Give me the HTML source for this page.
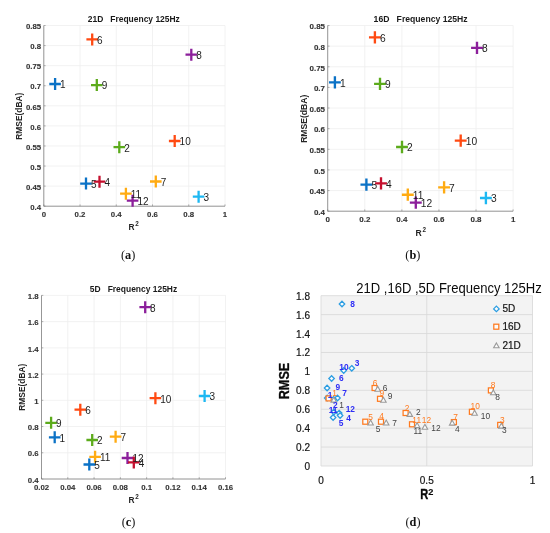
<!DOCTYPE html>
<html lang="en"><head><meta charset="utf-8"><title>Figure</title>
<style>html,body{margin:0;padding:0;background:#fff}svg{display:block}text{font-family:"Liberation Sans",sans-serif}.tk{font-weight:bold;fill:#333;stroke:#333;stroke-width:0.12px}.ttl{font-weight:bold;fill:#1a1a1a}.lab{font-weight:bold;fill:#262626}.pl{fill:#1c1c1c}.cap{font-family:"Liberation Serif","DejaVu Serif",serif;font-size:12.3px;fill:#111}.dt{font-size:10px;fill:#151515;stroke:#151515;stroke-width:0.2px}.dl{font-size:8.4px}</style></head><body>
<svg width="550" height="533" viewBox="0 0 550 533">
<rect width="550" height="533" fill="#fff"/>
<path d="M43.80 25.50V206.20M80.04 25.50V206.20M116.28 25.50V206.20M152.52 25.50V206.20M188.76 25.50V206.20M225.00 25.50V206.20M43.80 206.20H225.00M43.80 186.12H225.00M43.80 166.04H225.00M43.80 145.97H225.00M43.80 125.89H225.00M43.80 105.81H225.00M43.80 85.73H225.00M43.80 65.66H225.00M43.80 45.58H225.00M43.80 25.50H225.00" stroke="#ededed" stroke-width="0.75" fill="none"/>
<path d="M43.80 25.50V206.20H225.00" stroke="#707070" stroke-width="0.7" fill="none"/>
<path d="M43.80 206.20v-1.8M80.04 206.20v-1.8M116.28 206.20v-1.8M152.52 206.20v-1.8M188.76 206.20v-1.8M225.00 206.20v-1.8M43.80 206.20h1.8M43.80 186.12h1.8M43.80 166.04h1.8M43.80 145.97h1.8M43.80 125.89h1.8M43.80 105.81h1.8M43.80 85.73h1.8M43.80 65.66h1.8M43.80 45.58h1.8M43.80 25.50h1.8" stroke="#808080" stroke-width="0.6" fill="none"/>
<text class="tk" font-size="7.80" x="43.80" y="217.20" text-anchor="middle">0</text>
<text class="tk" font-size="7.80" x="80.04" y="217.20" text-anchor="middle">0.2</text>
<text class="tk" font-size="7.80" x="116.28" y="217.20" text-anchor="middle">0.4</text>
<text class="tk" font-size="7.80" x="152.52" y="217.20" text-anchor="middle">0.6</text>
<text class="tk" font-size="7.80" x="188.76" y="217.20" text-anchor="middle">0.8</text>
<text class="tk" font-size="7.80" x="225.00" y="217.20" text-anchor="middle">1</text>
<text class="tk" font-size="7.80" x="41.10" y="209.90" text-anchor="end">0.4</text>
<text class="tk" font-size="7.80" x="41.10" y="189.82" text-anchor="end">0.45</text>
<text class="tk" font-size="7.80" x="41.10" y="169.74" text-anchor="end">0.5</text>
<text class="tk" font-size="7.80" x="41.10" y="149.67" text-anchor="end">0.55</text>
<text class="tk" font-size="7.80" x="41.10" y="129.59" text-anchor="end">0.6</text>
<text class="tk" font-size="7.80" x="41.10" y="109.51" text-anchor="end">0.65</text>
<text class="tk" font-size="7.80" x="41.10" y="89.43" text-anchor="end">0.7</text>
<text class="tk" font-size="7.80" x="41.10" y="69.36" text-anchor="end">0.75</text>
<text class="tk" font-size="7.80" x="41.10" y="49.28" text-anchor="end">0.8</text>
<text class="tk" font-size="7.80" x="41.10" y="29.20" text-anchor="end">0.85</text>
<text class="ttl" font-size="8.46" x="133.80" y="21.90" text-anchor="middle" xml:space="preserve">21D   Frequency 125Hz</text>
<text class="lab" font-size="8.40" transform="translate(22.30 116.20) rotate(-90)" text-anchor="middle">RMSE(dBA)</text>
<text class="lab" font-size="8.40" x="133.70" y="229.90" text-anchor="middle">R<tspan dx="0.7" dy="-3.6" font-size="6.3">2</tspan></text>
<text class="cap" x="128.20" y="258.50" text-anchor="middle">(<tspan font-weight="bold">a</tspan>)</text>
<path d="M86.40 39.40h11.60M92.20 33.40v12.00" stroke="#FF4A12" stroke-width="2.30" fill="none"/>
<path d="M49.30 84.00h11.60M55.10 78.00v12.00" stroke="#0B72C6" stroke-width="2.30" fill="none"/>
<path d="M91.00 85.10h11.60M96.80 79.10v12.00" stroke="#5CAB1C" stroke-width="2.30" fill="none"/>
<path d="M185.50 54.70h11.60M191.30 48.70v12.00" stroke="#8C1F9B" stroke-width="2.30" fill="none"/>
<path d="M113.50 147.20h11.60M119.30 141.20v12.00" stroke="#5CAB1C" stroke-width="2.30" fill="none"/>
<path d="M80.20 183.60h11.60M86.00 177.60v12.00" stroke="#0B72C6" stroke-width="2.30" fill="none"/>
<path d="M93.70 181.70h11.60M99.50 175.70v12.00" stroke="#C5102E" stroke-width="2.30" fill="none"/>
<path d="M120.10 193.70h11.60M125.90 187.70v12.00" stroke="#FFAB12" stroke-width="2.30" fill="none"/>
<path d="M126.80 200.70h11.60M132.60 194.70v12.00" stroke="#8C1F9B" stroke-width="2.30" fill="none"/>
<path d="M168.90 141.00h11.60M174.70 135.00v12.00" stroke="#FF4A12" stroke-width="2.30" fill="none"/>
<path d="M150.00 181.50h11.60M155.80 175.50v12.00" stroke="#FFAB12" stroke-width="2.30" fill="none"/>
<path d="M192.80 196.70h11.60M198.60 190.70v12.00" stroke="#1DB8F2" stroke-width="2.30" fill="none"/>
<text class="pl" font-size="10.00" x="97.10" y="43.70">6</text>
<text class="pl" font-size="10.00" x="60.00" y="88.30">1</text>
<text class="pl" font-size="10.00" x="101.70" y="89.40">9</text>
<text class="pl" font-size="10.00" x="196.20" y="59.00">8</text>
<text class="pl" font-size="10.00" x="124.20" y="151.50">2</text>
<text class="pl" font-size="10.00" x="90.90" y="187.90">5</text>
<text class="pl" font-size="10.00" x="104.40" y="186.00">4</text>
<text class="pl" font-size="10.00" x="130.80" y="198.00">11</text>
<text class="pl" font-size="10.00" x="137.50" y="205.00">12</text>
<text class="pl" font-size="10.00" x="179.60" y="145.30">10</text>
<text class="pl" font-size="10.00" x="160.70" y="185.80">7</text>
<text class="pl" font-size="10.00" x="203.50" y="201.00">3</text>
<path d="M327.70 25.50V211.20M364.78 25.50V211.20M401.86 25.50V211.20M438.94 25.50V211.20M476.02 25.50V211.20M513.10 25.50V211.20M327.70 211.20H513.10M327.70 190.57H513.10M327.70 169.93H513.10M327.70 149.30H513.10M327.70 128.67H513.10M327.70 108.03H513.10M327.70 87.40H513.10M327.70 66.77H513.10M327.70 46.13H513.10M327.70 25.50H513.10" stroke="#ededed" stroke-width="0.75" fill="none"/>
<path d="M327.70 25.50V211.20H513.10" stroke="#707070" stroke-width="0.7" fill="none"/>
<path d="M327.70 211.20v-1.8M364.78 211.20v-1.8M401.86 211.20v-1.8M438.94 211.20v-1.8M476.02 211.20v-1.8M513.10 211.20v-1.8M327.70 211.20h1.8M327.70 190.57h1.8M327.70 169.93h1.8M327.70 149.30h1.8M327.70 128.67h1.8M327.70 108.03h1.8M327.70 87.40h1.8M327.70 66.77h1.8M327.70 46.13h1.8M327.70 25.50h1.8" stroke="#808080" stroke-width="0.6" fill="none"/>
<text class="tk" font-size="7.98" x="327.70" y="222.20" text-anchor="middle">0</text>
<text class="tk" font-size="7.98" x="364.78" y="222.20" text-anchor="middle">0.2</text>
<text class="tk" font-size="7.98" x="401.86" y="222.20" text-anchor="middle">0.4</text>
<text class="tk" font-size="7.98" x="438.94" y="222.20" text-anchor="middle">0.6</text>
<text class="tk" font-size="7.98" x="476.02" y="222.20" text-anchor="middle">0.8</text>
<text class="tk" font-size="7.98" x="513.10" y="222.20" text-anchor="middle">1</text>
<text class="tk" font-size="7.98" x="325.00" y="214.99" text-anchor="end">0.4</text>
<text class="tk" font-size="7.98" x="325.00" y="194.35" text-anchor="end">0.45</text>
<text class="tk" font-size="7.98" x="325.00" y="173.72" text-anchor="end">0.5</text>
<text class="tk" font-size="7.98" x="325.00" y="153.09" text-anchor="end">0.55</text>
<text class="tk" font-size="7.98" x="325.00" y="132.45" text-anchor="end">0.6</text>
<text class="tk" font-size="7.98" x="325.00" y="111.82" text-anchor="end">0.65</text>
<text class="tk" font-size="7.98" x="325.00" y="91.19" text-anchor="end">0.7</text>
<text class="tk" font-size="7.98" x="325.00" y="70.55" text-anchor="end">0.75</text>
<text class="tk" font-size="7.98" x="325.00" y="49.92" text-anchor="end">0.8</text>
<text class="tk" font-size="7.98" x="325.00" y="29.29" text-anchor="end">0.85</text>
<text class="ttl" font-size="8.65" x="420.60" y="21.60" text-anchor="middle" xml:space="preserve">16D   Frequency 125Hz</text>
<text class="lab" font-size="8.59" transform="translate(306.50 118.80) rotate(-90)" text-anchor="middle">RMSE(dBA)</text>
<text class="lab" font-size="8.59" x="420.80" y="235.90" text-anchor="middle">R<tspan dx="0.7" dy="-3.6" font-size="6.3">2</tspan></text>
<text class="cap" x="412.90" y="259.00" text-anchor="middle">(<tspan font-weight="bold">b</tspan>)</text>
<path d="M368.97 37.30h11.87M374.90 31.16v12.28" stroke="#FF4A12" stroke-width="2.35" fill="none"/>
<path d="M328.97 82.40h11.87M334.90 76.26v12.28" stroke="#0B72C6" stroke-width="2.35" fill="none"/>
<path d="M374.07 83.90h11.87M380.00 77.76v12.28" stroke="#5CAB1C" stroke-width="2.35" fill="none"/>
<path d="M471.07 47.90h11.87M477.00 41.76v12.28" stroke="#8C1F9B" stroke-width="2.35" fill="none"/>
<path d="M396.07 147.00h11.87M402.00 140.86v12.28" stroke="#5CAB1C" stroke-width="2.35" fill="none"/>
<path d="M360.47 184.60h11.87M366.40 178.46v12.28" stroke="#0B72C6" stroke-width="2.35" fill="none"/>
<path d="M375.07 183.40h11.87M381.00 177.26v12.28" stroke="#C5102E" stroke-width="2.35" fill="none"/>
<path d="M401.87 194.70h11.87M407.80 188.56v12.28" stroke="#FFAB12" stroke-width="2.35" fill="none"/>
<path d="M409.87 202.60h11.87M415.80 196.46v12.28" stroke="#8C1F9B" stroke-width="2.35" fill="none"/>
<path d="M454.77 140.60h11.87M460.70 134.46v12.28" stroke="#FF4A12" stroke-width="2.35" fill="none"/>
<path d="M438.17 187.40h11.87M444.10 181.26v12.28" stroke="#FFAB12" stroke-width="2.35" fill="none"/>
<path d="M479.97 198.00h11.87M485.90 191.86v12.28" stroke="#1DB8F2" stroke-width="2.35" fill="none"/>
<text class="pl" font-size="10.23" x="379.91" y="41.70">6</text>
<text class="pl" font-size="10.23" x="339.91" y="86.80">1</text>
<text class="pl" font-size="10.23" x="385.01" y="88.30">9</text>
<text class="pl" font-size="10.23" x="482.01" y="52.30">8</text>
<text class="pl" font-size="10.23" x="407.01" y="151.40">2</text>
<text class="pl" font-size="10.23" x="371.41" y="189.00">5</text>
<text class="pl" font-size="10.23" x="386.01" y="187.80">4</text>
<text class="pl" font-size="10.23" x="412.81" y="199.10">11</text>
<text class="pl" font-size="10.23" x="420.81" y="207.00">12</text>
<text class="pl" font-size="10.23" x="465.71" y="145.00">10</text>
<text class="pl" font-size="10.23" x="449.11" y="191.80">7</text>
<text class="pl" font-size="10.23" x="490.91" y="202.40">3</text>
<path d="M41.50 295.40V479.00M67.79 295.40V479.00M94.07 295.40V479.00M120.36 295.40V479.00M146.64 295.40V479.00M172.93 295.40V479.00M199.21 295.40V479.00M225.50 295.40V479.00M41.50 479.00H225.50M41.50 452.77H225.50M41.50 426.54H225.50M41.50 400.31H225.50M41.50 374.09H225.50M41.50 347.86H225.50M41.50 321.63H225.50M41.50 295.40H225.50" stroke="#ededed" stroke-width="0.75" fill="none"/>
<path d="M41.50 295.40V479.00H225.50" stroke="#707070" stroke-width="0.7" fill="none"/>
<path d="M41.50 479.00v-1.8M67.79 479.00v-1.8M94.07 479.00v-1.8M120.36 479.00v-1.8M146.64 479.00v-1.8M172.93 479.00v-1.8M199.21 479.00v-1.8M225.50 479.00v-1.8M41.50 479.00h1.8M41.50 452.77h1.8M41.50 426.54h1.8M41.50 400.31h1.8M41.50 374.09h1.8M41.50 347.86h1.8M41.50 321.63h1.8M41.50 295.40h1.8" stroke="#808080" stroke-width="0.6" fill="none"/>
<text class="tk" font-size="7.80" x="41.50" y="490.00" text-anchor="middle">0.02</text>
<text class="tk" font-size="7.80" x="67.79" y="490.00" text-anchor="middle">0.04</text>
<text class="tk" font-size="7.80" x="94.07" y="490.00" text-anchor="middle">0.06</text>
<text class="tk" font-size="7.80" x="120.36" y="490.00" text-anchor="middle">0.08</text>
<text class="tk" font-size="7.80" x="146.64" y="490.00" text-anchor="middle">0.1</text>
<text class="tk" font-size="7.80" x="172.93" y="490.00" text-anchor="middle">0.12</text>
<text class="tk" font-size="7.80" x="199.21" y="490.00" text-anchor="middle">0.14</text>
<text class="tk" font-size="7.80" x="225.50" y="490.00" text-anchor="middle">0.16</text>
<text class="tk" font-size="7.80" x="38.70" y="482.70" text-anchor="end">0.4</text>
<text class="tk" font-size="7.80" x="38.70" y="456.47" text-anchor="end">0.6</text>
<text class="tk" font-size="7.80" x="38.70" y="430.24" text-anchor="end">0.8</text>
<text class="tk" font-size="7.80" x="38.70" y="404.01" text-anchor="end">1</text>
<text class="tk" font-size="7.80" x="38.70" y="377.79" text-anchor="end">1.2</text>
<text class="tk" font-size="7.80" x="38.70" y="351.56" text-anchor="end">1.4</text>
<text class="tk" font-size="7.80" x="38.70" y="325.33" text-anchor="end">1.6</text>
<text class="tk" font-size="7.80" x="38.70" y="299.10" text-anchor="end">1.8</text>
<text class="ttl" font-size="8.46" x="133.50" y="291.90" text-anchor="middle" xml:space="preserve">5D   Frequency 125Hz</text>
<text class="lab" font-size="8.40" transform="translate(24.80 387.20) rotate(-90)" text-anchor="middle">RMSE(dBA)</text>
<text class="lab" font-size="8.40" x="133.70" y="502.60" text-anchor="middle">R<tspan dx="0.7" dy="-3.6" font-size="6.3">2</tspan></text>
<text class="cap" x="128.60" y="525.60" text-anchor="middle">(<tspan font-weight="bold">c</tspan>)</text>
<path d="M74.50 409.70h11.60M80.30 403.70v12.00" stroke="#FF4A12" stroke-width="2.30" fill="none"/>
<path d="M45.30 422.80h11.60M51.10 416.80v12.00" stroke="#5CAB1C" stroke-width="2.30" fill="none"/>
<path d="M48.90 437.30h11.60M54.70 431.30v12.00" stroke="#0B72C6" stroke-width="2.30" fill="none"/>
<path d="M86.40 440.00h11.60M92.20 434.00v12.00" stroke="#5CAB1C" stroke-width="2.30" fill="none"/>
<path d="M109.80 436.70h11.60M115.60 430.70v12.00" stroke="#FFAB12" stroke-width="2.30" fill="none"/>
<path d="M89.30 456.80h11.60M95.10 450.80v12.00" stroke="#FFAB12" stroke-width="2.30" fill="none"/>
<path d="M83.50 464.50h11.60M89.30 458.50v12.00" stroke="#0B72C6" stroke-width="2.30" fill="none"/>
<path d="M121.70 458.00h11.60M127.50 452.00v12.00" stroke="#8C1F9B" stroke-width="2.30" fill="none"/>
<path d="M128.00 462.40h11.60M133.80 456.40v12.00" stroke="#C5102E" stroke-width="2.30" fill="none"/>
<path d="M139.40 307.20h11.60M145.20 301.20v12.00" stroke="#8C1F9B" stroke-width="2.30" fill="none"/>
<path d="M149.60 398.20h11.60M155.40 392.20v12.00" stroke="#FF4A12" stroke-width="2.30" fill="none"/>
<path d="M198.80 396.00h11.60M204.60 390.00v12.00" stroke="#1DB8F2" stroke-width="2.30" fill="none"/>
<text class="pl" font-size="10.00" x="85.20" y="414.00">6</text>
<text class="pl" font-size="10.00" x="56.00" y="427.10">9</text>
<text class="pl" font-size="10.00" x="59.60" y="441.60">1</text>
<text class="pl" font-size="10.00" x="97.10" y="444.30">2</text>
<text class="pl" font-size="10.00" x="120.50" y="441.00">7</text>
<text class="pl" font-size="10.00" x="100.00" y="461.10">11</text>
<text class="pl" font-size="10.00" x="94.20" y="468.80">5</text>
<text class="pl" font-size="10.00" x="132.40" y="462.30">12</text>
<text class="pl" font-size="10.00" x="138.70" y="466.70">4</text>
<text class="pl" font-size="10.00" x="150.10" y="311.50">8</text>
<text class="pl" font-size="10.00" x="160.30" y="402.50">10</text>
<text class="pl" font-size="10.00" x="209.50" y="400.30">3</text>
<rect x="321.0" y="295.7" width="211.5" height="170.3" fill="#f3f3f3"/>
<path d="M321.00 466.00H532.50M321.00 447.08H532.50M321.00 428.16H532.50M321.00 409.23H532.50M321.00 390.31H532.50M321.00 371.39H532.50M321.00 352.47H532.50M321.00 333.54H532.50M321.00 314.62H532.50M321.00 295.70H532.50M321.00 295.70V466.00M426.75 295.70V466.00M532.50 295.70V466.00" stroke="#d9d9d9" stroke-width="0.85" fill="none"/>
<text class="dt" x="310" y="470.00" text-anchor="end">0</text>
<text class="dt" x="310" y="451.08" text-anchor="end">0.2</text>
<text class="dt" x="310" y="432.16" text-anchor="end">0.4</text>
<text class="dt" x="310" y="413.23" text-anchor="end">0.6</text>
<text class="dt" x="310" y="394.31" text-anchor="end">0.8</text>
<text class="dt" x="310" y="375.39" text-anchor="end">1</text>
<text class="dt" x="310" y="356.47" text-anchor="end">1.2</text>
<text class="dt" x="310" y="337.54" text-anchor="end">1.4</text>
<text class="dt" x="310" y="318.62" text-anchor="end">1.6</text>
<text class="dt" x="310" y="299.70" text-anchor="end">1.8</text>
<text class="dt" x="321.00" y="484.40" text-anchor="middle">0</text>
<text class="dt" x="426.75" y="484.40" text-anchor="middle">0.5</text>
<text class="dt" x="532.50" y="484.40" text-anchor="middle">1</text>
<text x="356.3" y="293.3" font-size="13.8" fill="#0a0a0a" textLength="185.5" lengthAdjust="spacingAndGlyphs">21D ,16D ,5D Frequency 125Hz</text>
<text transform="translate(288.9 381.0) rotate(-90)" text-anchor="middle" font-size="14" font-weight="bold" fill="#0a0a0a" stroke="#0a0a0a" stroke-width="0.3" textLength="36.5" lengthAdjust="spacingAndGlyphs">RMSE</text>
<text x="420.2" y="499" font-size="14" font-weight="bold" fill="#0a0a0a" stroke="#0a0a0a" stroke-width="0.35" textLength="8" lengthAdjust="spacingAndGlyphs">R</text>
<text x="428.3" y="495.1" font-size="9.2" font-weight="bold" fill="#0a0a0a" stroke="#0a0a0a" stroke-width="0.15">2</text>
<text class="cap" x="413" y="525.9" text-anchor="middle">(<tspan font-weight="bold">d</tspan>)</text>
<path d="M342.00 301.25l2.75 2.75l-2.75 2.75l-2.75 -2.75z" stroke="#2A9DE2" stroke-width="1.25" fill="#fbfbfb"/>
<path d="M351.75 365.55l2.75 2.75l-2.75 2.75l-2.75 -2.75z" stroke="#2A9DE2" stroke-width="1.25" fill="#fbfbfb"/>
<path d="M343.70 367.75l2.75 2.75l-2.75 2.75l-2.75 -2.75z" stroke="#2A9DE2" stroke-width="1.25" fill="#fbfbfb"/>
<path d="M331.60 375.75l2.75 2.75l-2.75 2.75l-2.75 -2.75z" stroke="#2A9DE2" stroke-width="1.25" fill="#fbfbfb"/>
<path d="M327.10 385.25l2.75 2.75l-2.75 2.75l-2.75 -2.75z" stroke="#2A9DE2" stroke-width="1.25" fill="#fbfbfb"/>
<path d="M327.20 395.25l2.75 2.75l-2.75 2.75l-2.75 -2.75z" stroke="#2A9DE2" stroke-width="1.25" fill="#fbfbfb"/>
<path d="M337.50 395.25l2.75 2.75l-2.75 2.75l-2.75 -2.75z" stroke="#2A9DE2" stroke-width="1.25" fill="#fbfbfb"/>
<path d="M333.50 396.55l2.75 2.75l-2.75 2.75l-2.75 -2.75z" stroke="#2A9DE2" stroke-width="1.25" fill="#fbfbfb"/>
<path d="M333.90 409.25l2.75 2.75l-2.75 2.75l-2.75 -2.75z" stroke="#2A9DE2" stroke-width="1.25" fill="#fbfbfb"/>
<path d="M339.20 410.35l2.75 2.75l-2.75 2.75l-2.75 -2.75z" stroke="#2A9DE2" stroke-width="1.25" fill="#fbfbfb"/>
<path d="M340.10 412.75l2.75 2.75l-2.75 2.75l-2.75 -2.75z" stroke="#2A9DE2" stroke-width="1.25" fill="#fbfbfb"/>
<path d="M333.10 414.75l2.75 2.75l-2.75 2.75l-2.75 -2.75z" stroke="#2A9DE2" stroke-width="1.25" fill="#fbfbfb"/>
<rect x="326.10" y="395.90" width="5" height="5" stroke="#FF7A1F" stroke-width="1.25" fill="#fbfbfb"/>
<rect x="372.10" y="385.50" width="5" height="5" stroke="#FF7A1F" stroke-width="1.25" fill="#fbfbfb"/>
<rect x="377.50" y="396.30" width="5" height="5" stroke="#FF7A1F" stroke-width="1.25" fill="#fbfbfb"/>
<rect x="362.80" y="419.20" width="5" height="5" stroke="#FF7A1F" stroke-width="1.25" fill="#fbfbfb"/>
<rect x="378.50" y="419.20" width="5" height="5" stroke="#FF7A1F" stroke-width="1.25" fill="#fbfbfb"/>
<rect x="403.10" y="410.50" width="5" height="5" stroke="#FF7A1F" stroke-width="1.25" fill="#fbfbfb"/>
<rect x="409.50" y="421.80" width="5" height="5" stroke="#FF7A1F" stroke-width="1.25" fill="#fbfbfb"/>
<rect x="451.40" y="419.60" width="5" height="5" stroke="#FF7A1F" stroke-width="1.25" fill="#fbfbfb"/>
<rect x="469.40" y="409.30" width="5" height="5" stroke="#FF7A1F" stroke-width="1.25" fill="#fbfbfb"/>
<rect x="488.40" y="387.90" width="5" height="5" stroke="#FF7A1F" stroke-width="1.25" fill="#fbfbfb"/>
<rect x="497.70" y="422.40" width="5" height="5" stroke="#FF7A1F" stroke-width="1.25" fill="#fbfbfb"/>
<path d="M333.80 397.20l2.75 4.9h-5.5z" stroke="#9a9a9a" stroke-width="1.1" fill="#fbfbfb"/>
<path d="M377.70 386.30l2.75 4.9h-5.5z" stroke="#9a9a9a" stroke-width="1.1" fill="#fbfbfb"/>
<path d="M383.40 397.30l2.75 4.9h-5.5z" stroke="#9a9a9a" stroke-width="1.1" fill="#fbfbfb"/>
<path d="M370.60 420.10l2.75 4.9h-5.5z" stroke="#9a9a9a" stroke-width="1.1" fill="#fbfbfb"/>
<path d="M386.20 420.10l2.75 4.9h-5.5z" stroke="#9a9a9a" stroke-width="1.1" fill="#fbfbfb"/>
<path d="M409.80 411.50l2.75 4.9h-5.5z" stroke="#9a9a9a" stroke-width="1.1" fill="#fbfbfb"/>
<path d="M417.10 422.70l2.75 4.9h-5.5z" stroke="#9a9a9a" stroke-width="1.1" fill="#fbfbfb"/>
<path d="M424.90 424.30l2.75 4.9h-5.5z" stroke="#9a9a9a" stroke-width="1.1" fill="#fbfbfb"/>
<path d="M452.20 420.20l2.75 4.9h-5.5z" stroke="#9a9a9a" stroke-width="1.1" fill="#fbfbfb"/>
<path d="M474.60 410.30l2.75 4.9h-5.5z" stroke="#9a9a9a" stroke-width="1.1" fill="#fbfbfb"/>
<path d="M493.30 389.90l2.75 4.9h-5.5z" stroke="#9a9a9a" stroke-width="1.1" fill="#fbfbfb"/>
<path d="M501.40 423.20l2.75 4.9h-5.5z" stroke="#9a9a9a" stroke-width="1.1" fill="#fbfbfb"/>
<text class="dl" x="352.50" y="306.70" text-anchor="middle" fill="#2F2FF5" font-weight="bold" font-size="9">8</text>
<text class="dl" x="357.20" y="366.10" text-anchor="middle" fill="#2F2FF5" font-weight="bold" font-size="9">3</text>
<text class="dl" x="343.90" y="370.20" text-anchor="middle" fill="#2F2FF5" font-weight="bold" font-size="9">10</text>
<text class="dl" x="341.40" y="380.70" text-anchor="middle" fill="#2F2FF5" font-weight="bold" font-size="9">6</text>
<text class="dl" x="337.80" y="389.80" text-anchor="middle" fill="#2F2FF5" font-weight="bold" font-size="9">9</text>
<text class="dl" x="344.50" y="396.20" text-anchor="middle" fill="#2F2FF5" font-weight="bold" font-size="9">7</text>
<text class="dl" x="330.00" y="398.40" text-anchor="middle" fill="#2F2FF5" font-weight="bold" font-size="9">1</text>
<text class="dl" x="335.40" y="407.80" text-anchor="middle" fill="#2F2FF5" font-weight="bold" font-size="9">2</text>
<text class="dl" x="350.30" y="411.50" text-anchor="middle" fill="#2F2FF5" font-weight="bold" font-size="9">12</text>
<text class="dl" x="333.10" y="413.20" text-anchor="middle" fill="#2F2FF5" font-weight="bold" font-size="9">11</text>
<text class="dl" x="348.50" y="420.90" text-anchor="middle" fill="#2F2FF5" font-weight="bold" font-size="9">4</text>
<text class="dl" x="341.10" y="426.20" text-anchor="middle" fill="#2F2FF5" font-weight="bold" font-size="9">5</text>
<text class="dl" x="334.70" y="396.20" text-anchor="middle" fill="#FF7A1F">1</text>
<text class="dl" x="375.10" y="385.80" text-anchor="middle" fill="#FF7A1F">6</text>
<text class="dl" x="381.90" y="396.40" text-anchor="middle" fill="#FF7A1F">9</text>
<text class="dl" x="370.50" y="419.50" text-anchor="middle" fill="#FF7A1F">5</text>
<text class="dl" x="381.50" y="419.30" text-anchor="middle" fill="#FF7A1F">4</text>
<text class="dl" x="407.10" y="410.50" text-anchor="middle" fill="#FF7A1F">2</text>
<text class="dl" x="416.70" y="423.20" text-anchor="middle" fill="#FF7A1F">11</text>
<text class="dl" x="426.50" y="423.20" text-anchor="middle" fill="#FF7A1F">12</text>
<text class="dl" x="455.50" y="420.20" text-anchor="middle" fill="#FF7A1F">7</text>
<text class="dl" x="475.20" y="409.10" text-anchor="middle" fill="#FF7A1F">10</text>
<text class="dl" x="493.10" y="387.80" text-anchor="middle" fill="#FF7A1F">8</text>
<text class="dl" x="502.40" y="422.60" text-anchor="middle" fill="#FF7A1F">3</text>
<text class="dl" x="341.70" y="408.00" text-anchor="middle" fill="#444">1</text>
<text class="dl" x="385.00" y="390.70" text-anchor="middle" fill="#444">6</text>
<text class="dl" x="390.10" y="399.30" text-anchor="middle" fill="#444">9</text>
<text class="dl" x="378.00" y="432.10" text-anchor="middle" fill="#444">5</text>
<text class="dl" x="394.50" y="426.40" text-anchor="middle" fill="#444">7</text>
<text class="dl" x="418.30" y="414.50" text-anchor="middle" fill="#444">2</text>
<text class="dl" x="417.80" y="433.80" text-anchor="middle" fill="#444">11</text>
<text class="dl" x="435.90" y="431.20" text-anchor="middle" fill="#444">12</text>
<text class="dl" x="457.30" y="431.80" text-anchor="middle" fill="#444">4</text>
<text class="dl" x="485.50" y="418.70" text-anchor="middle" fill="#444">10</text>
<text class="dl" x="497.60" y="400.10" text-anchor="middle" fill="#444">8</text>
<text class="dl" x="504.30" y="432.90" text-anchor="middle" fill="#444">3</text>
<path d="M496.40 306.15l2.75 2.75l-2.75 2.75l-2.75 -2.75z" stroke="#2A9DE2" stroke-width="1.25" fill="#fbfbfb"/>
<rect x="493.80" y="324.20" width="5" height="5" stroke="#FF7A1F" stroke-width="1.25" fill="#fbfbfb"/>
<path d="M496.40 342.90l2.75 4.9h-5.5z" stroke="#9a9a9a" stroke-width="1.1" fill="#fbfbfb"/>
<text x="502.5" y="312.40" font-size="10.0" fill="#151515" stroke="#151515" stroke-width="0.2">5D</text>
<text x="502.5" y="330.20" font-size="10.0" fill="#151515" stroke="#151515" stroke-width="0.2">16D</text>
<text x="502.5" y="348.80" font-size="10.0" fill="#151515" stroke="#151515" stroke-width="0.2">21D</text>
</svg></body></html>
